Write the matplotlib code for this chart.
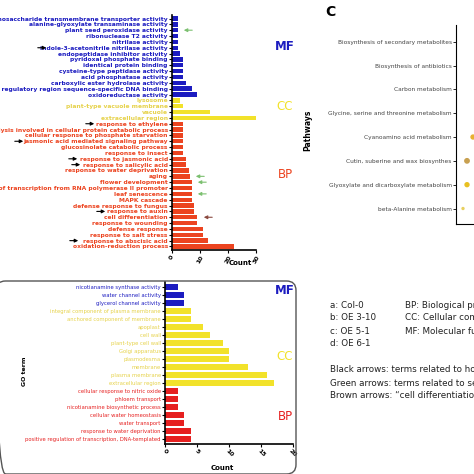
import matplotlib
matplotlib.use("Agg")
import matplotlib.pyplot as plt
from matplotlib.patches import FancyBboxPatch

W = H = 474
def fx(px): return px / W
def fy(py): return 1 - py / H

# ---- panel A data (top-left) ----
a_mf_terms = ["monosaccharide transmembrane transporter activity", "alanine-glyoxylate transaminase activity",
              "plant seed peroxidase activity", "ribonuclease T2 activity", "nitrilase activity",
              "indole-3-acetonitrile nitrilase activity", "endopeptidase inhibitor activity",
              "pyridoxal phosphate binding", "identical protein binding", "cysteine-type peptidase activity",
              "acid phosphatase activity", "carboxylic ester hydrolase activity",
              "transcription regulatory region sequence-specific DNA binding", "oxidoreductase activity"]
a_mf_counts = [2, 2, 2, 2, 2, 2, 3, 4, 4, 4, 4, 5, 7, 9]
a_cc_terms = ["lysosome", "plant-type vacuole membrane", "vacuole", "extracellular region"]
a_cc_counts = [3, 4, 13.5, 30]
a_bp_terms = ["response to ethylene", "proteolysis involved in cellular protein catabolic process",
              "cellular response to phosphate starvation", "jasmonic acid mediated signaling pathway",
              "glucosinolate catabolic process", "response to insect", "response to jasmonic acid",
              "response to salicylic acid", "response to water deprivation", "aging", "flower development",
              "regulation of transcription from RNA polymerase II promoter", "leaf senescence", "MAPK cascade",
              "defense response to fungus", "response to auxin", "cell differentiation", "response to wounding",
              "defense response", "response to salt stress", "response to abscisic acid",
              "oxidation-reduction process"]
a_bp_counts = [4, 4, 4, 4, 4, 4, 5, 5, 6, 6.5, 7, 7, 7, 7, 8, 8, 9, 9, 11, 11, 13, 22]
a_ticks = [0, 10, 20, 30]

# ---- panel B data (bottom-left) ----
b_mf_terms = ["nicotianamine synthase activity", "water channel activity", "glycerol channel activity"]
b_mf_counts = [2, 3, 3]
b_cc_terms = ["integral component of plasma membrane", "anchored component of membrane", "apoplast",
              "cell wall", "plant-type cell wall", "Golgi apparatus", "plasmodesma", "membrane",
              "plasma membrane", "extracellular region"]
b_cc_counts = [4, 4, 6, 7, 9, 10, 10, 13, 16, 17]
b_bp_terms = ["cellular response to nitric oxide", "phloem transport", "nicotianamine biosynthetic process",
              "cellular water homeostasis", "water transport", "response to water deprivation",
              "positive regulation of transcription, DNA-templated"]
b_bp_counts = [2, 2, 2, 3, 3, 4, 4]
b_ticks = [0, 5, 10, 15, 20]

# ---- panel C data ----
c_pathways = ["Biosynthesis of secondary metabolites", "Biosynthesis of antibiotics", "Carbon metabolism",
              "Glycine, serine and threonine metabolism", "Cyanoamino acid metabolism",
              "Cutin, suberine and wax biosynthes", "Glyoxylate and dicarboxylate metabolism",
              "beta-Alanine metabolism"]
c_x = [5, 5, 5, 5, 0.85, 0.55, 0.55, 0.35]
c_size = [30, 30, 30, 30, 8, 10, 8, 2]
c_col = ["#e0a020", "#e0a020", "#e0a020", "#e0a020", "#e8b030", "#c8a050", "#e8c020", "#e8d060"]

BLUE, YEL, RED = "#1c1cc0", "#f2e22a", "#ec4420"
YELT = "#e6d24a"

fig = plt.figure(figsize=(4.74, 4.74), dpi=100)

def barpanel(rect, groups, ticks, xmax, fs, bold):
    ax = fig.add_axes(rect)
    terms, counts, cols, tcols = [], [], [], []
    for t, c, col, tcol in groups:
        terms += t; counts += c; cols += [col]*len(t); tcols += [tcol]*len(t)
    y = list(range(len(terms)))
    ax.barh(y, counts, color=cols, height=0.75)
    ax.set_ylim(len(terms) - 0.4, -0.6)
    ax.set_xlim(0, xmax)
    ax.set_yticks(y)
    ax.set_yticklabels(terms, fontsize=fs, fontweight="bold" if bold else "normal")
    for lab, c in zip(ax.get_yticklabels(), tcols):
        lab.set_color(c)
    ax.set_xticks(ticks)
    ax.set_xticklabels([str(t) for t in ticks], rotation=-45 if not bold else 60, fontsize=4.5, fontweight="bold")
    for s in ["top", "right"]:
        ax.spines[s].set_visible(False)
    ax.spines["left"].set_linewidth(1.2)
    ax.spines["bottom"].set_linewidth(1.2)
    ax.tick_params(length=2, width=0.8, pad=1)
    return ax

axA = barpanel([fx(172), fy(250), fx(256 - 172), (250 - 15) / H],
               [(a_mf_terms, a_mf_counts, BLUE, BLUE), (a_cc_terms, a_cc_counts, YEL, YELT),
                (a_bp_terms, a_bp_counts, RED, RED)], a_ticks, 30, 4.3, True)
fig.text(fx(240), fy(265), "Count", fontsize=5, ha="center", fontweight="bold")

axB = barpanel([fx(165), fy(444), fx(293 - 165), (444 - 282) / H],
               [(b_mf_terms, b_mf_counts, BLUE, BLUE), (b_cc_terms, b_cc_counts, YEL, YELT),
                (b_bp_terms, b_bp_counts, "#e62020", "#e62020")], b_ticks, 20, 3.8, False)
axB.set_ylabel("GO term", fontsize=4.5, fontweight="bold", labelpad=1)
axB.yaxis.set_label_coords((27 - 165) / 128, 0.45)
fig.text(fx(222), fy(470), "Count", fontsize=5, ha="center", fontweight="bold")

# group labels
for (x, y, s, c) in [(285, 47, "MF", BLUE), (285, 107, "CC", YEL), (285, 175, "BP", RED),
                     (285, 291, "MF", BLUE), (285, 356, "CC", YEL), (285, 416, "BP", "#e62020")]:
    fig.text(fx(x), fy(y), s, fontsize=8.5, color=c, ha="center", va="center",
             fontweight="bold" if s == "MF" else "normal")

# arrows panel A
allA = a_mf_terms + a_cc_terms + a_bp_terms
def arrow(term, x0, x1, color):
    i = allA.index(term)
    axA.annotate("", xy=(x1, i), xytext=(x0, i), xycoords=("figure pixels", "data"),
                 textcoords=("figure pixels", "data"), annotation_clip=False,
                 arrowprops=dict(arrowstyle="-|>", color=color, lw=0.8, mutation_scale=5))
for term, x0 in [("indole-3-acetonitrile nitrilase activity", 35), ("jasmonic acid mediated signaling pathway", 12),
                 ("response to ethylene", 83), ("response to jasmonic acid", 66),
                 ("response to salicylic acid", 69), ("response to auxin", 94), ("response to abscisic acid", 67)]:
    arrow(term, x0, x0 + 14, "black")
for term, x0 in [("plant seed peroxidase activity", 195), ("aging", 207), ("flower development", 209),
                 ("leaf senescence", 209)]:
    arrow(term, x0, x0 - 14, "#7cc070")
arrow("cell differentiation", 215, 201, "#8b4a40")

# panel C
axC = fig.add_axes([fx(456), fy(224), fx(60), (224 - 25) / H])
yc = list(range(len(c_pathways)))
axC.scatter(c_x, yc, s=c_size, c=c_col, clip_on=True)
axC.set_xlim(0, 3)
axC.set_ylim(len(c_pathways) - 0.35, -0.7)
axC.set_yticks(yc)
axC.set_yticklabels(c_pathways, fontsize=4.2, color="#444444")
axC.set_xticks([])
axC.spines["top"].set_visible(False)
axC.spines["right"].set_visible(False)
axC.tick_params(length=2, width=0.6, pad=1)
axC.set_ylabel("Pathways", fontsize=5.5, fontweight="bold")
axC.yaxis.set_label_coords((312 - 456) / 60, 0.47)
fig.text(fx(325), fy(12), "C", fontsize=10, fontweight="bold", va="center")

# rounded box around panel B
box = FancyBboxPatch((fx(-4), fy(474)), fx(300), (474 - 281) / H, boxstyle="round,pad=0,rounding_size=0.02",
                     transform=fig.transFigure, fill=False, ec="#555555", lw=1.0)
fig.add_artist(box)

# legend text
left = ["a: Col-0", "b: OE 3-10", "c: OE 5-1", "d: OE 6-1"]
right = ["BP: Biological process", "CC: Cellular component", "MF: Molecular function"]
for k, s in enumerate(left):
    fig.text(fx(330), fy(305 + 13 * k), s, fontsize=6.3, va="center", color="#222222")
for k, s in enumerate(right):
    fig.text(fx(405), fy(305 + 13 * k), s, fontsize=6.3, va="center", color="#222222")
notes = ["Black arrows: terms related to hormone", "Green arrows: terms related to senescence",
         "Brown arrows: \u201ccell differentiation\u201d"]
for k, s in enumerate(notes):
    fig.text(fx(330), fy(370 + 13 * k), s, fontsize=6.3, va="center", color="#222222")

fig.savefig("out.png", dpi=100)
